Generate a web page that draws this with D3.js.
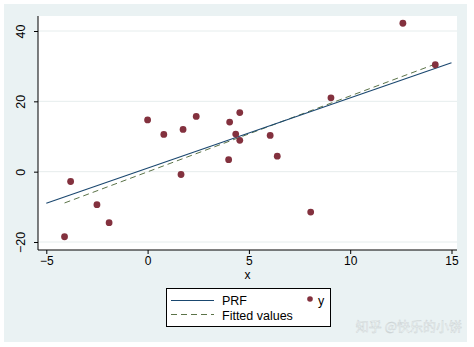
<!DOCTYPE html>
<html><head><meta charset="utf-8">
<script src="https://cdn.jsdelivr.net/npm/d3@7"></script>
<style>html,body{margin:0;padding:0;background:#fff;}svg{display:block;}</style>
</head><body>
<script>
const xVals = [-4.1,-3.8,-2.5,-1.9,0,0.8,1.65,1.75,2.4,4.0,4.05,4.35,4.55,4.55,6.05,6.4,9.05,8.05,12.6,14.2];
const yVals = [-18.5,-2.8,-9.4,-14.5,14.7,10.6,-0.8,12,15.7,3.4,14.1,10.7,16.8,8.9,10.3,4.4,21,-11.5,42.2,30.4];
const prfX = [-5, 15];
const prfY = [-9, 31];
const fitX = [-4.1, 14.2];
const fitY = [-8.9, 30.6];
const xTicks = [-5, 0, 5, 10, 15];
const yTicks = [-20, 0, 20, 40];
const legendLabels = ["PRF", "Fitted values", "y"];

const W = 474, H = 347;
const svg = d3.select("body").append("svg").attr("width", W).attr("height", H);
svg.append("rect").attr("x",4).attr("y",4).attr("width",463).attr("height",338).attr("fill","#eaf2f3");
const L = 38, R = 457, T = 16, B = 250;
svg.append("rect").attr("x",L).attr("y",T).attr("width",R-L).attr("height",B-T).attr("fill","#fff");

const x = d3.scaleLinear().domain([-5,15]).range([46.3,451.5]);
const y = d3.scaleLinear().domain([-20,40]).range([242,31]);

// grid
svg.append("g").selectAll("line").data(yTicks).join("line")
  .attr("x1",L).attr("x2",R).attr("y1",d=>y(d)).attr("y2",d=>y(d))
  .attr("stroke","#e6eded").attr("stroke-width",1);

const font = "Liberation Sans, Arial, sans-serif";
// y axis
const ya = svg.append("g").attr("transform",`translate(${L},0)`)
  .call(d3.axisLeft(y).tickValues(yTicks).tickSize(4).tickFormat(d3.format("d")));
ya.select(".domain").attr("d",`M0,${T}V${B}`).attr("stroke","#000");
ya.selectAll(".tick line").attr("stroke","#000");
ya.selectAll(".tick text").attr("font-family",font).attr("font-size",12.5).attr("fill","#000")
  .attr("text-anchor","middle").attr("transform","rotate(-90)").attr("x",0).attr("y",-13).attr("dy","0");
// x axis
const xa = svg.append("g").attr("transform",`translate(0,${B})`)
  .call(d3.axisBottom(x).tickValues(xTicks).tickSize(4).tickFormat(d3.format("d")));
xa.select(".domain").attr("d",`M${L},0H${R}`).attr("stroke","#000");
xa.selectAll(".tick line").attr("stroke","#000");
xa.selectAll(".tick text").attr("font-family",font).attr("font-size",12).attr("fill","#000").attr("y",6);
svg.append("text").attr("x",(L+R)/2).attr("y",279).attr("text-anchor","middle")
  .attr("font-family",font).attr("font-size",12).text("x");

const line = d3.line().x(d=>x(d[0])).y(d=>y(d[1]));
svg.append("path").attr("d",line(fitX.map((v,i)=>[v,fitY[i]]))).attr("fill","none")
  .attr("stroke","#5b7348").attr("stroke-width",1).attr("stroke-dasharray","6,4");
svg.append("path").attr("d",line(prfX.map((v,i)=>[v,prfY[i]]))).attr("fill","none")
  .attr("stroke","#1a476f").attr("stroke-width",1.1);

svg.append("g").selectAll("circle").data(xVals).join("circle")
  .attr("cx",d=>x(d)).attr("cy",(d,i)=>y(yVals[i])).attr("r",3.4).attr("fill","#83313e");

// legend
const lg = svg.append("g");
lg.append("rect").attr("x",166.5).attr("y",288.5).attr("width",164).attr("height",38)
  .attr("fill","#fff").attr("stroke","#000").attr("stroke-width",1);
lg.append("line").attr("x1",171).attr("x2",214).attr("y1",300.5).attr("y2",300.5).attr("stroke","#1a476f");
lg.append("line").attr("x1",171).attr("x2",214).attr("y1",314.5).attr("y2",314.5).attr("stroke","#5b7348").attr("stroke-dasharray","6,4");
lg.append("text").attr("x",222).attr("y",305).attr("font-family",font).attr("font-size",12.5).text(legendLabels[0]);
lg.append("text").attr("x",222).attr("y",319.5).attr("font-family",font).attr("font-size",12.5).text(legendLabels[1]);
lg.append("circle").attr("cx",310).attr("cy",299).attr("r",2.8).attr("fill","#83313e");
lg.append("text").attr("x",318).attr("y",305).attr("font-family",font).attr("font-size",12.5).text(legendLabels[2]);

svg.append("text").attr("x",462).attr("y",331).attr("text-anchor","end")
  .attr("font-family","Noto Sans CJK SC").attr("font-size",13).attr("fill","#f4f8f8")
  .attr("stroke","#c9d0d2").attr("stroke-width",0.4).text("知乎 @快乐的小饼");
</script>
</body></html>
